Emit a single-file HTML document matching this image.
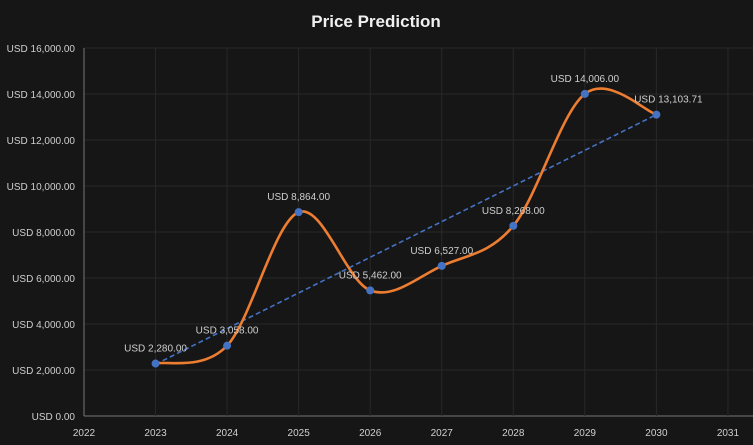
<!DOCTYPE html><html><head><meta charset="utf-8"><style>
body{margin:0;background:#161616;}
svg{display:block;font-family:"Liberation Sans",sans-serif;}
</style></head><body>
<svg id="s" width="753" height="445" viewBox="0 0 753 445">
<rect width="753" height="445" fill="#161616"/>
<text x="376" y="27" fill="#f0f0f0" font-size="17" font-weight="bold" text-anchor="middle">Price Prediction</text>
<g id="g"></g>
</svg>
<script>
const g=document.getElementById('g');let h='';
const X=y=>84+(y-2022)*71.55, Y=v=>416-v*0.023;
for(let v=0;v<=16000;v+=2000){const y=Y(v);
h+=`<line x1="84" x2="753" y1="${y}" y2="${y}" stroke="${v?'#282828':'#777'}" stroke-width="1"/>`;
h+=`<text x="75" y="${y+4}" fill="#cfcfcf" font-size="10" text-anchor="end">USD ${v.toLocaleString('en-US')}.00</text>`;}
for(let yr=2022;yr<=2031;yr++){const x=X(yr);
if(yr>2022)h+=`<line x1="${x}" x2="${x}" y1="48" y2="416" stroke="#282828"/>`;
h+=`<text x="${x}" y="436" fill="#cfcfcf" font-size="10" text-anchor="middle">${yr}</text>`;}
h+=`<line x1="84" x2="84" y1="48" y2="416" stroke="#777"/>`;
const d=[[2023,2280],[2024,3058],[2025,8864],[2026,5462],[2027,6527],[2028,8268],[2029,14006],[2030,13103.71]];
const p=d.map(a=>[X(a[0]),Y(a[1])]);
h+=`<line x1="${p[0][0]}" y1="${Y(2250)}" x2="${p[7][0]}" y2="${Y(13103)}" stroke="#4472c4" stroke-width="1.6" stroke-dasharray="5,3"/>`;
let path=`M${p[0][0]},${p[0][1]}`;const t=0.5/3*2;
for(let i=0;i<p.length-1;i++){const p0=p[Math.max(i-1,0)],p1=p[i],p2=p[i+1],p3=p[Math.min(i+2,p.length-1)];
const c1=[p1[0]+(p2[0]-p0[0])*t/2,p1[1]+(p2[1]-p0[1])*t/2],c2=[p2[0]-(p3[0]-p1[0])*t/2,p2[1]-(p3[1]-p1[1])*t/2];
path+=` C${c1[0]},${c1[1]} ${c2[0]},${c2[1]} ${p2[0]},${p2[1]}`;}
h+=`<path d="${path}" fill="none" stroke="#ed7d31" stroke-width="2.6"/>`;
const off=[[0,0],[0,0],[0,0],[0,0],[0,0],[0,0],[0,0],[12,0]];
d.forEach((a,i)=>{h+=`<circle cx="${p[i][0]}" cy="${p[i][1]}" r="4" fill="#4472c4"/>`;
h+=`<text x="${p[i][0]+off[i][0]}" y="${p[i][1]-12}" fill="#cfcfcf" font-size="10" text-anchor="middle">USD ${a[1].toLocaleString('en-US',{minimumFractionDigits:2})}</text>`;});
g.innerHTML=h;
</script>
</body></html>
